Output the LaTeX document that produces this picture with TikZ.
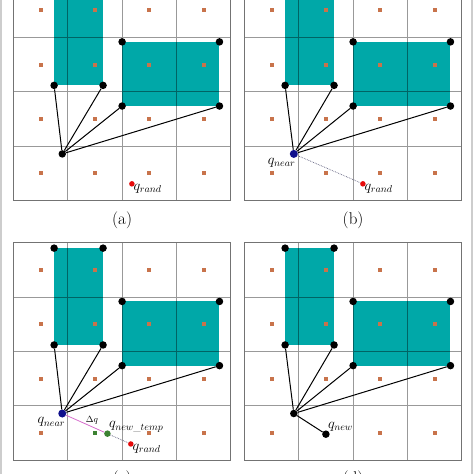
\documentclass[tikz,border=0pt]{standalone}
\usepackage{amsmath}
\usetikzlibrary{positioning}

\definecolor{obstcol}{RGB}{0,168,168}
\definecolor{samplecol}{RGB}{200,115,75}
\definecolor{nearcol}{RGB}{15,15,140}
\definecolor{tempcol}{RGB}{60,130,50}
\definecolor{randcol}{RGB}{230,10,10}
\definecolor{stepcol}{RGB}{215,110,205}
\definecolor{guidecol}{RGB}{95,95,125}
\definecolor{pagecol}{RGB}{205,205,205}

\tikzset{
  obst/.style={fill=obstcol},
  gridline/.style={draw=black, draw opacity=0.4, line width=0.8pt},
  frame/.style={draw=black!55, line width=1.1pt},
  sample/.style={rectangle, fill=samplecol, minimum size=4pt, inner sep=0pt},
  corner/.style={circle, fill=black, minimum size=7.5pt, inner sep=0pt},
  nearnode/.style={circle, fill=nearcol, minimum size=8pt, inner sep=0pt},
  randnode/.style={circle, fill=randcol, minimum size=5.5pt, inner sep=0pt},
  tempnode/.style={circle, fill=tempcol, minimum size=6.5pt, inner sep=0pt},
  link/.style={draw=black, line width=1pt},
  stepline/.style={draw=stepcol, line width=0.8pt},
  guideline/.style={draw=guidecol, line width=0.7pt, densely dotted},
  lbl/.style={font=\fontsize{14}{16}\selectfont, inner sep=0pt},
  steplbl/.style={font=\fontsize{9}{11}\selectfont, inner sep=0pt},
  caption/.style={font=\fontsize{17}{20}\selectfont, inner sep=0pt}
}

\begin{document}
\begin{tikzpicture}[x=54.4pt,y=54.4pt]
  \useasboundingbox (0,0) rectangle (474pt,474pt);
  \clip (0,0) rectangle (474pt,474pt);
  \fill[white] (0,0) rectangle (474pt,474pt);
  % page edges
  \fill[pagecol] (0,0) rectangle (2pt,474pt);
  \fill[pagecol] (471pt,0) rectangle (472.5pt,474pt);

  % the four panels: obstacles, grid, samples, corners
  \foreach \p/\ox/\oy in {a/13.3/273.3, b/244.3/273.3, c/13.3/13.7, d/244.3/13.7}{
    \begin{scope}[shift={(\ox pt,\oy pt)}]
      \fill[obst] (0.75,2.12) rectangle (1.65,3.9);
      \fill[obst] (2.0,1.74) rectangle (3.79,2.92);
      \draw[gridline] (0,0) grid[step={(1,1)}] (4,4);
      \draw[frame] (0,0) rectangle (4,4);
      \foreach \i in {0,...,3}
        \foreach \j in {0,...,3}
          \node[sample] (\p-s\i\j) at (\i+0.5,\j+0.5) {};
      \node[corner] (\p-lbl) at (0.75,2.12) {};
      \node[corner] (\p-lbr) at (1.65,2.12) {};
      \node[corner] (\p-ltl) at (0.75,3.9) {};
      \node[corner] (\p-ltr) at (1.65,3.9) {};
      \node[corner] (\p-rbl) at (2.0,1.74) {};
      \node[corner] (\p-rbr) at (3.79,1.74) {};
      \node[corner] (\p-rtl) at (2.0,2.92) {};
      \node[corner] (\p-rtr) at (3.79,2.92) {};
      \node[caption] (\p-cap) at (2,-0.355) {(\p)};
    \end{scope}
  }

  % (a)
  \begin{scope}[shift={(13.3pt,273.3pt)}]
    \node[corner] (a-q) at (0.9,0.86) {};
    \node[randnode] (a-rand) at (2.18,0.31) {};
    \node[lbl, below right=-2pt and -0.5pt of a-rand] (a-randlbl) {$q_{rand}$};
  \end{scope}
  \draw[link] (a-q) -- (a-lbl);
  \draw[link] (a-q) -- (a-lbr);
  \draw[link] (a-q) -- (a-rbl);
  \draw[link] (a-q) -- (a-rbr);

  % (b)
  \begin{scope}[shift={(244.3pt,273.3pt)}]
    \node[nearnode] (b-near) at (0.91,0.86) {};
    \node[randnode] (b-rand) at (2.18,0.31) {};
    \node[lbl, below left=1pt and -4.8pt of b-near] (b-nearlbl) {$q_{near}$};
    \node[lbl, below right=-2pt and -0.5pt of b-rand] (b-randlbl) {$q_{rand}$};
  \end{scope}
  \draw[link] (b-near) -- (b-lbl);
  \draw[link] (b-near) -- (b-lbr);
  \draw[link] (b-near) -- (b-rbl);
  \draw[link] (b-near) -- (b-rbr);
  \draw[guideline] (b-near) -- (b-rand);

  % (c)
  \begin{scope}[shift={(13.3pt,13.7pt)}]
    \node[sample, fill=tempcol] (c-hit) at (1.5,0.5) {};
    \node[nearnode] (c-near) at (0.9,0.86) {};
    \node[tempnode] (c-temp) at (1.73,0.49) {};
    \node[randnode] (c-rand) at (2.16,0.3) {};
    \node[lbl, below left=1pt and -6pt of c-near] (c-nearlbl) {$q_{near}$};
    \node[lbl, above right=-1pt and -1pt of c-temp] (c-templbl) {$q_{new\text{\_}temp}$};
    \node[lbl, below right=-2pt and -0.5pt of c-rand] (c-randlbl) {$q_{rand}$};
  \end{scope}
  \draw[link] (c-near) -- (c-lbl);
  \draw[link] (c-near) -- (c-lbr);
  \draw[link] (c-near) -- (c-rbl);
  \draw[link] (c-near) -- (c-rbr);
  \draw[stepline] (c-near) -- node[steplbl, pos=0.68, above=2pt] (c-steplbl) {$\Delta q$} (c-temp);
  \draw[guideline] (c-temp) -- (c-rand);

  % (d)
  \begin{scope}[shift={(244.3pt,13.7pt)}]
    \node[corner] (d-q) at (0.91,0.86) {};
    \node[corner] (d-new) at (1.5,0.48) {};
    \node[lbl, above right=-0.2pt and -0.8pt of d-new] (d-newlbl) {$q_{new}$};
  \end{scope}
  \draw[link] (d-q) -- (d-lbl);
  \draw[link] (d-q) -- (d-lbr);
  \draw[link] (d-q) -- (d-rbl);
  \draw[link] (d-q) -- (d-rbr);
  \draw[link] (d-q) -- (d-new);
\end{tikzpicture}
\end{document}
